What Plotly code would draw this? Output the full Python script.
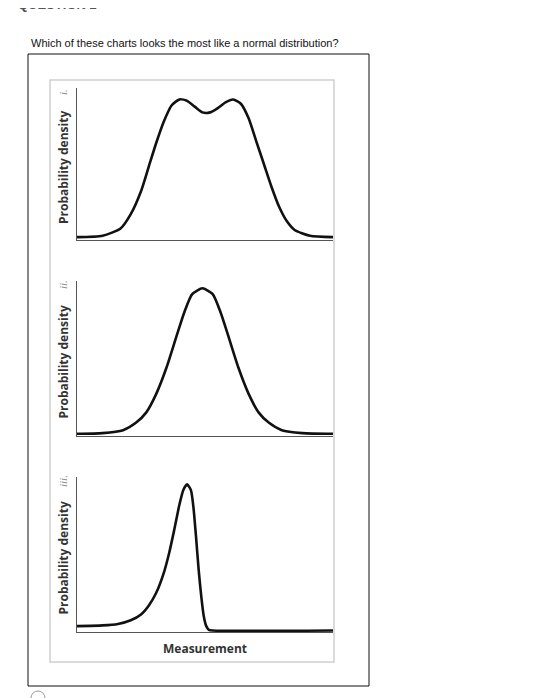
import plotly.graph_objects as go

# Panel i (bimodal)
x1 = [0, 10, 17, 21, 25, 28, 31, 34, 37, 40, 43, 46, 49, 52, 55, 58, 61, 64, 67, 70, 73, 76, 79, 82, 85, 91, 100]
y1 = [0.01, 0.02, 0.07, 0.17, 0.33, 0.5, 0.67, 0.82, 0.93, 0.97, 0.96, 0.92, 0.88, 0.88, 0.91, 0.95, 0.97, 0.94, 0.84, 0.68, 0.52, 0.36, 0.22, 0.12, 0.06, 0.02, 0.01]
# Panel ii (normal)
x2 = [0, 10, 18, 23, 27, 31, 35, 39, 42, 45, 49, 53, 56, 59, 63, 67, 71, 75, 80, 88, 100]
y2 = [0.005, 0.01, 0.03, 0.08, 0.15, 0.28, 0.46, 0.68, 0.84, 0.96, 1.0, 0.96, 0.84, 0.68, 0.46, 0.28, 0.15, 0.08, 0.03, 0.01, 0.005]
# Panel iii (skewed)
x3 = [0, 10, 16, 21, 25, 28, 31, 34, 36, 38, 40, 41.5, 43, 44.5, 45.5, 46.5, 47.5, 48.5, 49.5, 50.5, 51.5, 53, 100]
y3 = [0.03, 0.035, 0.045, 0.07, 0.11, 0.17, 0.26, 0.4, 0.53, 0.69, 0.86, 0.96, 1.0, 0.96, 0.84, 0.64, 0.42, 0.24, 0.1, 0.03, 0.005, 0.0, 0.0]
numerals = ["i.", "ii.", "iii."]
ytitle = "Probability density"
xtitle = "Measurement"

OFF = 8  # page body margin
W, H = 553 - OFF, 698 - OFF

def px(p):
    return (p - OFF) / W

def py(p):
    return 1 - (p - OFF) / H

panels = [(x1, y1, 88, 240), (x2, y2, 281, 436), (x3, y3, 477, 632)]
X0, X1 = 77, 333

fig = go.Figure()
layout = dict(width=W, height=H, margin=dict(l=0, r=0, t=0, b=0),
              paper_bgcolor="white", plot_bgcolor="white", showlegend=False)
shapes, annotations = [], []

for i, (xs, ys, top, base) in enumerate(panels):
    n = "" if i == 0 else str(i + 1)
    fig.add_trace(go.Scatter(x=xs, y=ys, mode="lines", line=dict(color="#111", width=2.6, shape="spline", smoothing=0.6),
                             xaxis="x" + n, yaxis="y" + n, hoverinfo="skip", cliponaxis=False))
    layout["xaxis" + n] = dict(domain=[px(X0), px(X1)], range=[0, 100], showgrid=False, zeroline=False,
                               showticklabels=False, ticks="", showline=True, linecolor="#555", linewidth=1.3,
                               anchor="y" + n, fixedrange=True)
    layout["yaxis" + n] = dict(domain=[py(base), py(top)], range=[-0.01, 1.05], showgrid=False, zeroline=False,
                               showticklabels=False, ticks="", showline=True, linecolor="#555", linewidth=1.3,
                               anchor="x" + n, fixedrange=True)
    annotations.append(dict(x=px(63), y=py((top + base) / 2 + 4), xref="paper", yref="paper", text="<b>" + ytitle + "</b>",
                            textangle=-90, xanchor="center", yanchor="middle", showarrow=False,
                            font=dict(family="Open Sans", size=12, color="#333")))
    annotations.append(dict(x=px(63), y=py(top + 4), xref="paper", yref="paper", text="<i>" + numerals[i] + "</i>",
                            textangle=-90, xanchor="center", yanchor="middle", showarrow=False,
                            font=dict(family="Liberation Serif", size=11, color="#888")))

annotations.append(dict(x=px(205), y=py(648), xref="paper", yref="paper", text="<b>" + xtitle + "</b>",
                        xanchor="center", yanchor="middle",
                        showarrow=False, font=dict(family="Open Sans", size=12, color="#333")))
annotations.append(dict(x=px(16), y=py(4), xref="paper", yref="paper", text="<b>QUESTION 2</b>", xanchor="left",
                        yanchor="middle", showarrow=False, font=dict(family="Liberation Sans", size=13, color="#555")))
annotations.append(dict(x=px(29), y=py(43), xref="paper", yref="paper", xanchor="left", yanchor="middle",
                        text="Which of these charts looks the most like a normal distribution?",
                        showarrow=False, font=dict(family="Liberation Sans", size=11, color="#111")))

# inner image box
shapes.append(dict(type="rect", xref="paper", yref="paper", x0=px(50), x1=px(334), y0=py(662), y1=py(80),
                   line=dict(color="#d0d0d0", width=1.5), layer="below"))
# outer box
shapes.append(dict(type="rect", xref="paper", yref="paper", x0=px(28), x1=px(369), y0=py(686), y1=py(54),
                   line=dict(color="#111", width=1)))
shapes.append(dict(type="circle", xref="paper", yref="paper", x0=px(31), x1=px(45), y0=py(705), y1=py(691),
                   line=dict(color="#999", width=1)))

layout["shapes"] = shapes
layout["annotations"] = annotations
fig.update_layout(**layout)
fig.write_html("out.html", config={"displayModeBar": False})
